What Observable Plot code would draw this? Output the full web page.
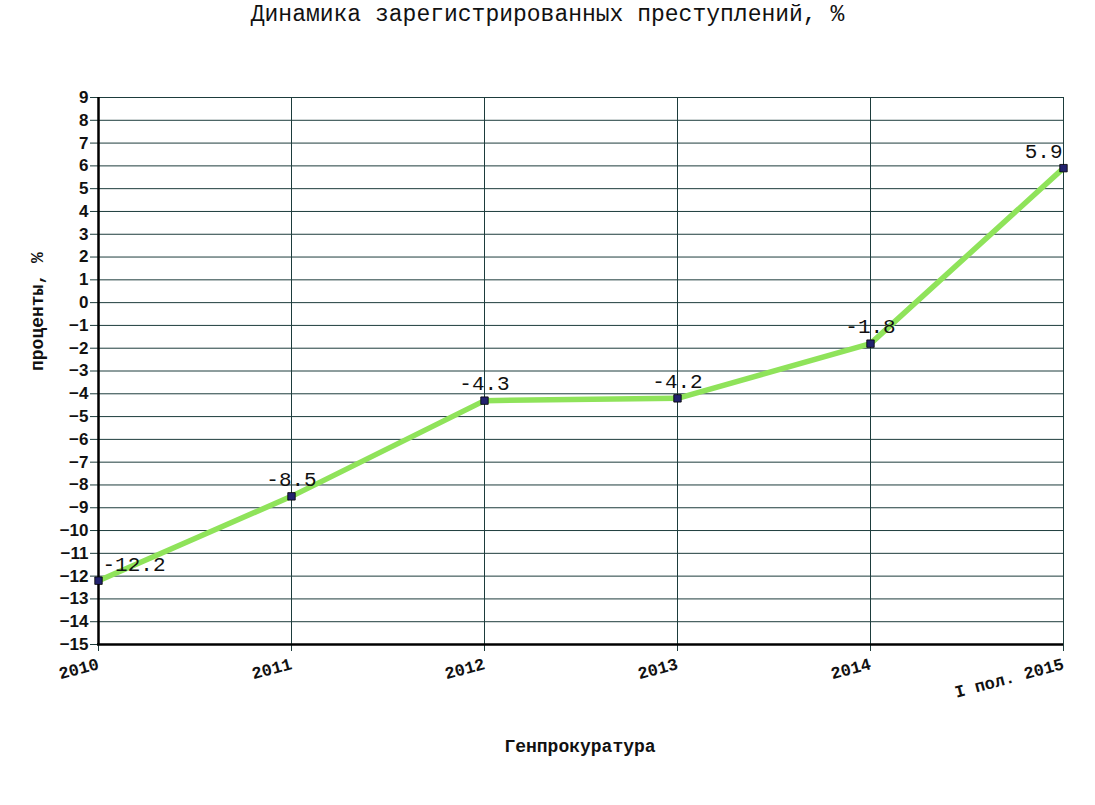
<!DOCTYPE html>
<html>
<head>
<meta charset="utf-8">
<script src="https://cdn.jsdelivr.net/npm/d3@7"></script>
<script src="https://cdn.jsdelivr.net/npm/@observablehq/plot@0.6"></script>
<style>
  html, body { margin: 0; padding: 0; background: #fff; }
  #wrap { position: relative; width: 1095px; height: 805px; overflow: hidden; }
  #title { position: absolute; left: 0; top: 2px; width: 1095px; text-align: center;
    font-family: "Liberation Mono", "DejaVu Sans Mono", monospace; font-size: 23px; color: #111; }
  #xlab { position: absolute; left: 430px; top: 737px; width: 300px; text-align: center;
    font-family: "Liberation Mono", monospace; font-weight: bold; font-size: 18px; color: #111; }
  #chart { position: absolute; left: 0; top: 0; }
</style>
</head>
<body>
<div id="wrap">
  <div id="chart"></div>
  <div id="title">Динамика зарегистрированных преступлений, %</div>
  <div id="xlab">Генпрокуратура</div>
</div>
<script>
const categories = ["2010", "2011", "2012", "2013", "2014", "I пол. 2015"];
const values = [-12.2, -8.5, -4.3, -4.2, -1.8, 5.9];
const labels = ["-12.2", "-8.5", "-4.3", "-4.2", "-1.8", "5.9"];
const yTicks = d3.range(-15, 10, 1);

const data = categories.map((c, i) => ({cat: c, val: values[i], label: labels[i], i}));
const gridColor = "#1d3c3c";
const mono = "Liberation Mono, DejaVu Sans Mono, monospace";

const chart = Plot.plot({
  width: 1095,
  height: 805,
  marginLeft: 97,
  marginRight: 32,
  marginTop: 97,
  marginBottom: 161,
  style: {background: "#fff", overflow: "visible"},
  x: {type: "point", domain: categories, padding: 0, label: null},
  y: {domain: [-15, 9], label: null},
  marks: [
    Plot.gridY(yTicks, {stroke: gridColor, strokeOpacity: 1, strokeWidth: 1}),
    Plot.gridX(categories, {stroke: gridColor, strokeOpacity: 1, strokeWidth: 1}),
    Plot.axisY(yTicks, {tickSize: 7, tickPadding: 2, fontSize: 17, fontWeight: "bold",
      fontFamily: "Liberation Sans, Arial, sans-serif", fill: "#111", stroke: gridColor,
      label: null, tickFormat: d => d < 0 ? "\u2212" + Math.abs(d) : String(d)}),
    Plot.axisX(categories, {tickSize: 7, tickPadding: 12, tickRotate: -15, fontSize: 17,
      fontWeight: "bold", fontFamily: mono, fill: "#111", stroke: gridColor, label: null}),
    Plot.ruleX([categories[0]], {stroke: "#000", strokeWidth: 2.5}),
    Plot.ruleY([-15], {stroke: "#000", strokeWidth: 2.5}),
    Plot.line(data, {x: "cat", y: "val", stroke: "#8fe35a", strokeWidth: 5.5}),
    Plot.dot(data, {x: "cat", y: "val", symbol: "square", r: 4.2, fill: "#22226e", stroke: "#000", strokeWidth: 0.8}),
    Plot.text(data.filter(d => d.i === 0), {x: "cat", y: "val", text: "label", textAnchor: "start", dx: 4, dy: -16,
      fontFamily: mono, fontSize: 21, fill: "#111"}),
    Plot.text(data.filter(d => d.i > 0 && d.i < 5), {x: "cat", y: "val", text: "label", textAnchor: "middle", dy: -17,
      fontFamily: mono, fontSize: 21, fill: "#111"}),
    Plot.text(data.filter(d => d.i === 5), {x: "cat", y: "val", text: "label", textAnchor: "end", dx: -1, dy: -17,
      fontFamily: mono, fontSize: 21, fill: "#111"}),
    Plot.text(["проценты, %"], {frameAnchor: "left", dx: -60, rotate: -90, text: d => d,
      fontFamily: mono, fontWeight: "bold", fontSize: 18, fill: "#111"})
  ]
});
document.getElementById("chart").appendChild(chart);
</script>
</body>
</html>
